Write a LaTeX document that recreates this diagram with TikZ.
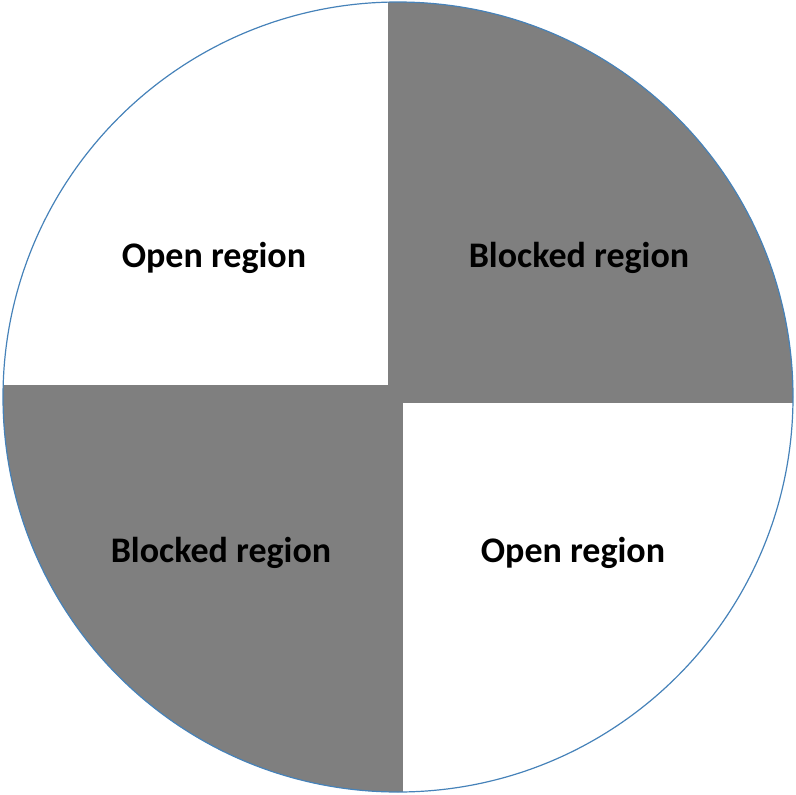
\documentclass[tikz,border=0pt]{standalone}
\usepackage{fontspec}
\setmainfont{Carlito}
\usepackage{xcolor}
\definecolor{blocked}{HTML}{7F7F7F}
\definecolor{rim}{RGB}{70,130,185}
\tikzset{
    label_node/.style = {align=center, inner sep=0pt, font=\bfseries\fontsize{36}{40}\selectfont}
}
\begin{document}
\begin{tikzpicture}[x=1pt, y=-1pt]
    \useasboundingbox (0,0) rectangle (796,795);
    \begin{scope}
        \clip (398,397) circle (395);
        \fill[blocked] (388,0) rectangle (800,403);
        \fill[blocked] (0,385) rectangle (403,800);
    \end{scope}
    \draw[rim, line width=1.2pt] (398,397) circle (395);

    \node [label_node] (open_tl) at (214,258) {Open region};
    \node [label_node] (blocked_tr) at (579,258) {Blocked region};
    \node [label_node] (blocked_bl) at (221,553) {Blocked region};
    \node [label_node] (open_br) at (573,553) {Open region};
\end{tikzpicture}
\end{document}
